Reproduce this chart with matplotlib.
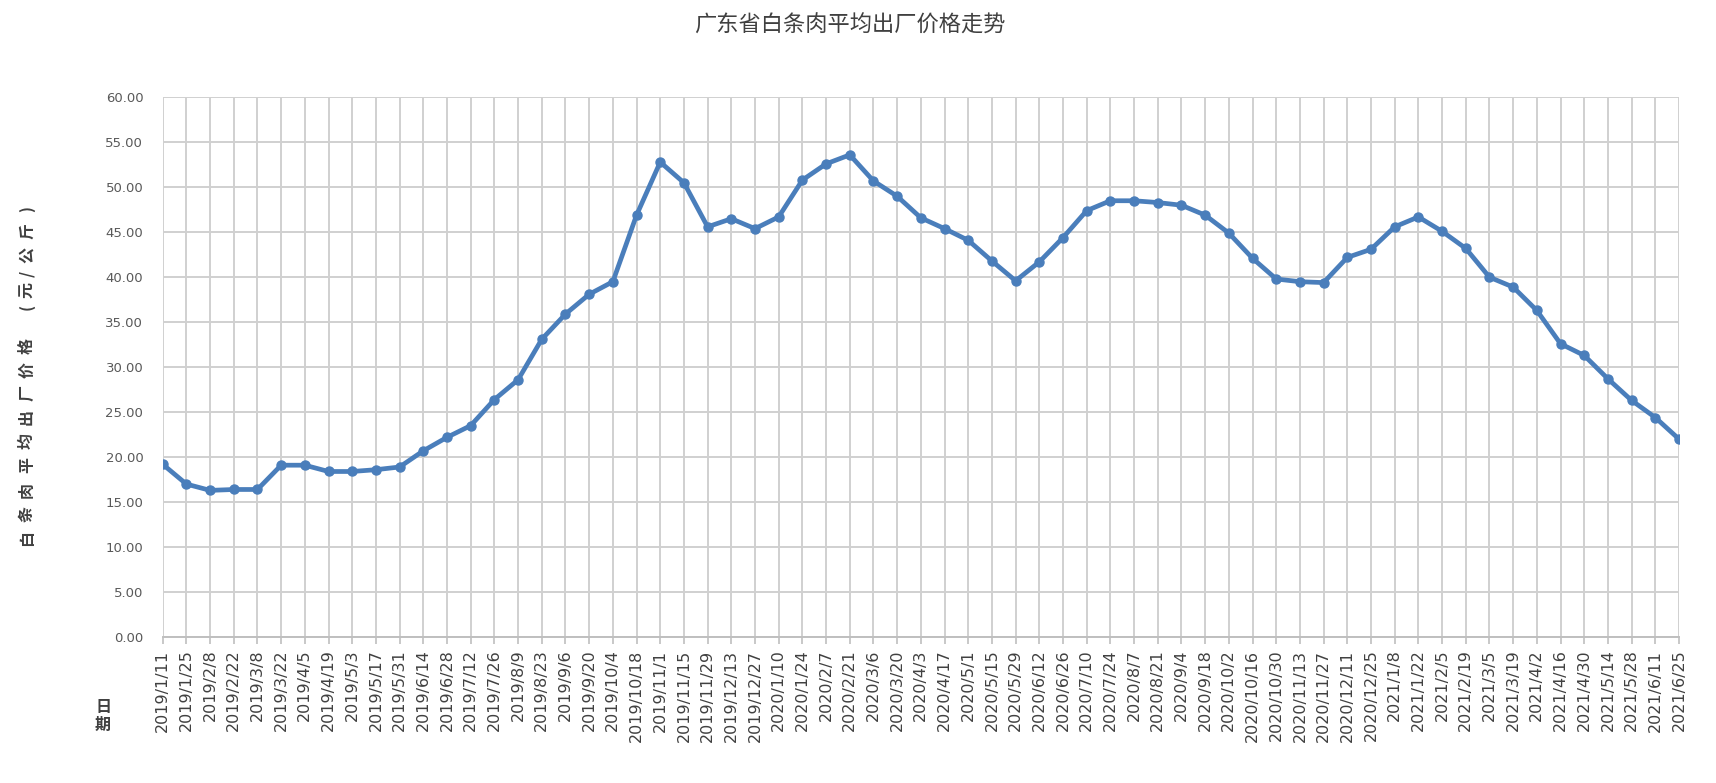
import matplotlib
matplotlib.use("Agg")
import matplotlib.pyplot as plt

plt.rcParams['font.family'] = ['Noto Sans CJK SC', 'DejaVu Sans']

title = "广东省白条肉平均出厂价格走势"
ylabel = "白条肉平均出厂价格(元/公斤)"
xlabel = "日期"

dates = [
    "2019/1/11", "2019/1/25", "2019/2/8", "2019/2/22", "2019/3/8", "2019/3/22",
    "2019/4/5", "2019/4/19", "2019/5/3", "2019/5/17", "2019/5/31", "2019/6/14",
    "2019/6/28", "2019/7/12", "2019/7/26", "2019/8/9", "2019/8/23", "2019/9/6",
    "2019/9/20", "2019/10/4", "2019/10/18", "2019/11/1", "2019/11/15", "2019/11/29",
    "2019/12/13", "2019/12/27", "2020/1/10", "2020/1/24", "2020/2/7", "2020/2/21",
    "2020/3/6", "2020/3/20", "2020/4/3", "2020/4/17", "2020/5/1", "2020/5/15",
    "2020/5/29", "2020/6/12", "2020/6/26", "2020/7/10", "2020/7/24", "2020/8/7",
    "2020/8/21", "2020/9/4", "2020/9/18", "2020/10/2", "2020/10/16", "2020/10/30",
    "2020/11/13", "2020/11/27", "2020/12/11", "2020/12/25", "2021/1/8", "2021/1/22",
    "2021/2/5", "2021/2/19", "2021/3/5", "2021/3/19", "2021/4/2", "2021/4/16",
    "2021/4/30", "2021/5/14", "2021/5/28", "2021/6/11", "2021/6/25",
]

prices = [
    19.2, 17.0, 16.3, 16.4, 16.4, 19.1, 19.1, 18.4, 18.4, 18.6,
    18.9, 20.7, 22.2, 23.5, 26.4, 28.6, 33.1, 35.9, 38.1, 39.5,
    46.9, 52.8, 50.5, 45.6, 46.5, 45.4, 46.7, 50.8, 52.6, 53.6,
    50.7, 49.0, 46.6, 45.4, 44.1, 41.8, 39.6, 41.7, 44.4, 47.4,
    48.5, 48.5, 48.3, 48.0, 46.9, 44.9, 42.1, 39.8, 39.5, 39.4,
    42.2, 43.1, 45.6, 46.7, 45.1, 43.2, 40.0, 38.9, 36.3, 32.6,
    31.3, 28.7, 26.3, 24.4, 22.0,
]

yticks = [0, 5, 10, 15, 20, 25, 30, 35, 40, 45, 50, 55, 60]

W, H = 1716, 783
fig = plt.figure(figsize=(W / 100, H / 100), dpi=100)
ax = fig.add_axes([162.7 / W, 1 - 637 / H, (1679 - 162.7) / W, (637 - 97.3) / H])

x = list(range(len(dates)))
line_color = "#4a7ebb"
ax.plot(x, prices, color=line_color, linewidth=3.4, marker="o", markersize=6.5,
        markerfacecolor=line_color, markeredgecolor=line_color, zorder=3,
        solid_joinstyle="round")

ax.set_xlim(0, len(dates) - 1)
ax.set_ylim(0, 60)
ax.set_yticks(yticks)
ax.set_yticklabels([f"{v:.2f}" for v in yticks], fontsize=9.5, color="#595959",
                   family="DejaVu Sans")
ax.set_xticks(x)
ax.set_xticklabels(dates, rotation=90, fontsize=11.5, color="#404040",
                   family="DejaVu Sans")

ax.grid(True, color="#d0d0d0", linewidth=1.4)
ax.set_axisbelow(True)
for s in ["top", "right", "left"]:
    ax.spines[s].set_visible(False)
ax.spines["bottom"].set_color("#bfbfbf")
ax.spines["bottom"].set_linewidth(1.4)
ax.tick_params(axis="x", length=5, color="#bfbfbf", width=1.2, pad=4)
ax.tick_params(axis="y", length=0, pad=14)

fig.text(850 / W, 1 - 25 / H, title, ha="center", va="center", fontsize=16,
         color="#404040")

# vertical y-axis title, one glyph per slot (pixel rows, bottom to top)
char_rows = [538, 514, 490, 465, 441, 417, 393, 370, 346, 307, 290, 274, 255, 231, 209]
for ch, yy in zip(ylabel, char_rows):
    fig.text(27 / W, 1 - yy / H, ch, rotation=90, ha="center", va="center",
             fontsize=11.5, fontweight="bold", color="#404040")

fig.text(103 / W, 1 - 716 / H, "\n".join(xlabel), ha="center", va="center",
         fontsize=11.5, fontweight="bold", color="#404040", linespacing=1.15)

fig.savefig("out.png", dpi=100)
